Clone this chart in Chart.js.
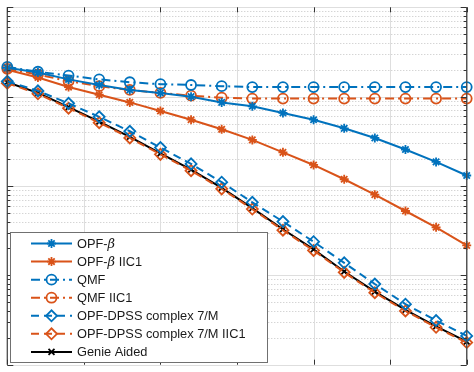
<!DOCTYPE html>
<html lang="en">
<head>
<meta charset="UTF-8">
<title>BER vs SNR</title>
<style>
    html, body { margin: 0; padding: 0; background: #ffffff; }
    #caixa { width: 474px; height: 372px; }
</style>
<script src="https://cdn.jsdelivr.net/npm/chart.js"></script>
</head>
<body>
<div id="caixa"><canvas id="grafico" width="474" height="372"></canvas></div>
<script>
// x values (SNR, dB) and y values
const snr = [0, 2, 4, 6, 8, 10, 12, 14, 16, 18, 20, 22, 24, 26, 28, 30];
const xTicks = [0, 5, 10, 15, 20, 25, 30];
const yDecades = [1, 1e-1, 1e-2, 1e-3, 1e-4];

const opfBeta = [0.210, 0.186, 0.156, 0.135, 0.119, 0.110, 0.100, 0.0862,
                 0.0780, 0.0657, 0.0552, 0.0442, 0.0345, 0.0256, 0.0186, 0.0131];
const opfBetaIIC1 = [0.200, 0.164, 0.128, 0.105, 0.0862, 0.0690, 0.0552, 0.0431,
                     0.0328, 0.0238, 0.0172, 0.0119, 0.0080, 0.00525, 0.00345, 0.00216];
const qmf = [0.215, 0.190, 0.172, 0.156, 0.145, 0.138, 0.135, 0.131,
             0.128, 0.128, 0.128, 0.128, 0.128, 0.128, 0.128, 0.128];
const qmfIIC1 = [0.205, 0.177, 0.149, 0.131, 0.119, 0.110, 0.1025, 0.0975,
                 0.0952, 0.0952, 0.0952, 0.0952, 0.0952, 0.0952, 0.0952, 0.0952];
const dpss = [0.1486, 0.1160, 0.0841, 0.0594, 0.0410, 0.0269, 0.01768, 0.01104,
              0.00657, 0.00400, 0.00238, 0.00138, 0.000800, 0.000476, 0.000312, 0.000210];
const dpssIIC1 = [0.1415, 0.1077, 0.0743, 0.0512, 0.0345, 0.0226, 0.01486, 0.00929,
                  0.00552, 0.00320, 0.00190, 0.00108, 0.00064, 0.00040, 0.000262, 0.000177];
const genie = [0.1450, 0.1104, 0.0762, 0.0525, 0.0354, 0.0232, 0.01523, 0.00952,
               0.00566, 0.00328, 0.00195, 0.001104, 0.000657, 0.000410, 0.000269, 0.000181];

const azul = '#0072BD';
const laranja = '#D95319';
const preto = '#000000';

function serie(label, valores, cor, estilo, raio, tracejado) {
    return {
        label: label,
        data: snr.map((x, i) => ({ x: x, y: valores[i] })),
        borderColor: cor,
        backgroundColor: 'rgba(0,0,0,0)',
        borderWidth: 2,
        borderDash: tracejado,
        pointStyle: estilo,
        pointRadius: raio,
        pointBorderWidth: 1.8,
        pointBorderColor: cor,
        pointBackgroundColor: 'rgba(0,0,0,0)',
        tension: 0,
        clip: false
    };
}

const pontilhado = [9, 4, 2, 4];
const tracos = [8, 5];

// grid, box and ticks like a MATLAB axes
const moldura = {
    id: 'moldura',
    beforeDatasetsDraw(chart) {
        const ctx = chart.ctx;
        const xs = chart.scales.x, ys = chart.scales.y;
        const a = chart.chartArea;
        ctx.save();
        // minor dotted lines
        ctx.strokeStyle = '#c4c4c4';
        ctx.lineWidth = 1;
        ctx.setLineDash([1, 2]);
        for (let d = 0; d < yDecades.length - 1; d++) {
            for (let k = 2; k <= 9; k++) {
                const py = Math.round(ys.getPixelForValue(yDecades[d + 1] * k)) + 0.5;
                ctx.beginPath(); ctx.moveTo(a.left, py); ctx.lineTo(a.right, py); ctx.stroke();
            }
        }
        // major lines
        ctx.setLineDash([]);
        ctx.strokeStyle = '#dedede';
        yDecades.forEach(v => {
            const py = Math.round(ys.getPixelForValue(v)) + 0.5;
            ctx.beginPath(); ctx.moveTo(a.left, py); ctx.lineTo(a.right, py); ctx.stroke();
        });
        xTicks.forEach(v => {
            const px = Math.round(xs.getPixelForValue(v)) + 0.5;
            ctx.beginPath(); ctx.moveTo(px, a.top); ctx.lineTo(px, a.bottom); ctx.stroke();
        });
        ctx.restore();
    },
    afterDatasetsDraw(chart) {
        const ctx = chart.ctx;
        const xs = chart.scales.x, ys = chart.scales.y;
        const a = chart.chartArea;
        ctx.save();
        ctx.strokeStyle = '#4d4d4d';
        ctx.lineWidth = 1.3;
        ctx.beginPath();
        ctx.moveTo(a.left, a.top); ctx.lineTo(a.left, a.bottom);
        ctx.moveTo(a.right, a.top); ctx.lineTo(a.right, a.bottom);
        ctx.stroke();
        ctx.lineWidth = 1;
        ctx.strokeStyle = '#333';
        for (let d = 0; d < yDecades.length; d++) {
            for (let k = 1; k <= 9; k++) {
                if (d === yDecades.length - 1 && k > 1) break;
                const val = k === 1 ? yDecades[d] : yDecades[d + 1] * k;
                const py = Math.round(ys.getPixelForValue(val)) + 0.5;
                const len = k === 1 ? 6 : 3;
                ctx.beginPath();
                ctx.moveTo(a.left, py); ctx.lineTo(a.left + len, py);
                ctx.moveTo(a.right, py); ctx.lineTo(a.right - len, py);
                ctx.stroke();
            }
        }
        xTicks.forEach(v => {
            const px = Math.round(xs.getPixelForValue(v)) + 0.5;
            ctx.beginPath();
            ctx.moveTo(px, a.top); ctx.lineTo(px, a.top + 5);
            ctx.moveTo(px, a.bottom); ctx.lineTo(px, a.bottom - 5);
            ctx.stroke();
        });
        ctx.restore();
    }
};

// legend drawn by hand: line sample with marker, then text
const legenda = {
    id: 'legenda',
    afterDraw(chart) {
        const ctx = chart.ctx;
        ctx.save();
        ctx.fillStyle = '#ffffff';
        ctx.fillRect(10, 232, 257, 130);
        ctx.strokeStyle = '#707070';
        ctx.lineWidth = 1;
        ctx.strokeRect(10.5, 232.5, 257, 130);
        chart.data.datasets.forEach((ds, i) => {
            const y = 243.5 + i * 18.07;
            ctx.strokeStyle = ds.borderColor;
            ctx.lineWidth = ds.borderWidth;
            ctx.setLineDash(ds.borderDash || []);
            ctx.beginPath(); ctx.moveTo(31, y); ctx.lineTo(72, y); ctx.stroke();
            ctx.setLineDash([]);
            ctx.lineWidth = ds.pointBorderWidth;
            ctx.fillStyle = 'rgba(0,0,0,0)';
            Chart.helpers.drawPoint(ctx, {
                pointStyle: ds.pointStyle, radius: ds.pointRadius,
                rotation: 0, borderWidth: ds.pointBorderWidth
            }, 51.5, y);
            ctx.fillStyle = '#1a1a1a';
            ctx.textBaseline = 'middle';
            const partes = ds.label.split('β');
            let tx = 77;
            partes.forEach((p, j) => {
                ctx.font = '12.8px "Liberation Sans", Arial, sans-serif';
                ctx.fillText(p, tx, y + 1);
                tx += ctx.measureText(p).width;
                if (j < partes.length - 1) {
                    ctx.font = 'italic 13px "DejaVu Serif", serif';
                    ctx.fillText('β', tx, y + 1);
                    tx += ctx.measureText('β').width;
                }
            });
        });
        ctx.restore();
    }
};

new Chart(document.getElementById('grafico').getContext('2d'), {
    type: 'line',
    data: {
        datasets: [
            serie('OPF-β', opfBeta, azul, 'star', 4.5, []),
            serie('OPF-β IIC1', opfBetaIIC1, laranja, 'star', 4.5, []),
            serie('QMF', qmf, azul, 'circle', 5, pontilhado),
            serie('QMF IIC1', qmfIIC1, laranja, 'circle', 5, pontilhado),
            serie('OPF-DPSS complex 7/M', dpss, azul, 'rectRot', 5.5, tracos),
            serie('OPF-DPSS complex 7/M IIC1', dpssIIC1, laranja, 'rectRot', 5.5, tracos),
            serie('Genie Aided', genie, preto, 'crossRot', 4.2, [])
        ]
    },
    options: {
        responsive: false,
        animation: false,
        devicePixelRatio: 1,
        layout: { padding: { left: 3.5, right: 6, top: 0, bottom: 0 } },
        plugins: { legend: { display: false }, tooltip: { enabled: false } },
        scales: {
            x: { type: 'linear', min: 0, max: 30, display: false },
            y: { type: 'logarithmic', min: 1e-4, max: 1, display: false }
        }
    },
    plugins: [moldura, legenda]
});
</script>
</body>
</html>
